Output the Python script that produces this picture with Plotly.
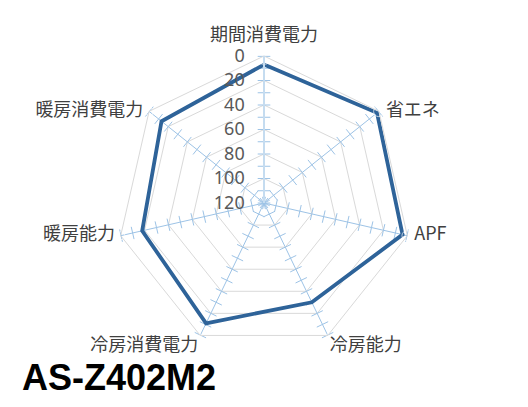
import plotly.graph_objects as go

# Radar data (axis reversed: 0 = outer edge, 120 = centre)
categories = ['期間消費電力', '省エネ', 'APF', '冷房能力', '冷房消費電力', '暖房能力', '暖房消費電力']
values = [7, 2, 4, 30, 11, 18, 13]
radial_ticks = [0, 20, 40, 60, 80, 100, 120]
minor_ticks = [0, 10, 20, 30, 40, 50, 60, 70, 80, 90, 100, 110, 120]
model = 'AS-Z402M2'

W, H = 528, 407
off = 8  # page body margin
cx, cy, rad = 264 - off, 203 - off, 147
edge = 0.3  # points exactly at r=0 get dropped by plotly, nudge them in

fig = go.Figure()

# little tick marks on every spoke (Excel style)
step = 360 / len(categories)
tick_r, tick_t, tick_a = [], [], []
for i, cat in enumerate(categories):
    for v in minor_ticks:
        tick_r.append(max(v, edge))
        tick_t.append(cat)
        tick_a.append(i * step)
fig.add_trace(go.Scatterpolar(
    r=tick_r, theta=tick_t, mode='markers',
    marker=dict(symbol='line-ew', size=9, angle=tick_a,
                line=dict(color='#9DC3E6', width=1)),
    cliponaxis=False, hoverinfo='skip', showlegend=False
))

fig.add_trace(go.Scatterpolar(
    r=values + values[:1],
    theta=categories + categories[:1],
    mode='lines',
    line=dict(color='#2E6399', width=3.8),
    name=model,
    showlegend=False
))

# category labels placed Excel-style next to the outer vertices
lbl_pos = ['top center', 'middle right', 'middle right', 'bottom right',
           'bottom left', 'middle left', 'middle left']
lbl_gap = [16, 10, 10, 2, 2, 8, 8]
fig.add_trace(go.Scatterpolar(
    r=[edge] * len(categories), theta=categories, mode='markers+text',
    text=categories, textposition=lbl_pos,
    textfont=dict(size=18, color='#404040', family='Noto Sans CJK JP'),
    marker=dict(size=lbl_gap, color='rgba(0,0,0,0)'),
    cliponaxis=False, hoverinfo='none', showlegend=False
))

fig.update_layout(
    width=W, height=H,
    margin=dict(l=0, r=0, t=0, b=0),
    paper_bgcolor='white',
    font=dict(family='Noto Sans CJK JP', color='#595959'),
    polar=dict(
        domain=dict(x=[(cx - rad) / W, (cx + rad) / W],
                    y=[(H - cy - rad) / H, (H - cy + rad) / H]),
        gridshape='linear',
        bgcolor='white',
        radialaxis=dict(
            range=[120, 0],
            tickvals=radial_ticks,
            angle=90,
            side='counterclockwise',
            tickangle=90,
            ticks='outside',
            ticklen=12,
            tickcolor='rgba(0,0,0,0)',
            showline=True,
            linecolor='#C5DCF0',
            linewidth=2,
            gridcolor='#D9D9D9',
            tickfont=dict(size=18, color='#595959', family='Noto Sans'),
        ),
        angularaxis=dict(
            direction='clockwise',
            rotation=90,
            categoryorder='array',
            categoryarray=categories,
            gridcolor='#9DC3E6',
            showline=True,
            linecolor='#D9D9D9',
            ticks='',
            showticklabels=False,
        ),
    ),
    annotations=[dict(
        text=model, x=(20 - off) / W, y=1 - (377 - off) / H, xref='paper', yref='paper',
        xanchor='left', yanchor='middle', showarrow=False,
        font=dict(family='Liberation Sans', size=36, color='black', weight='bold'),
    )],
)

fig.write_html("out.html")
